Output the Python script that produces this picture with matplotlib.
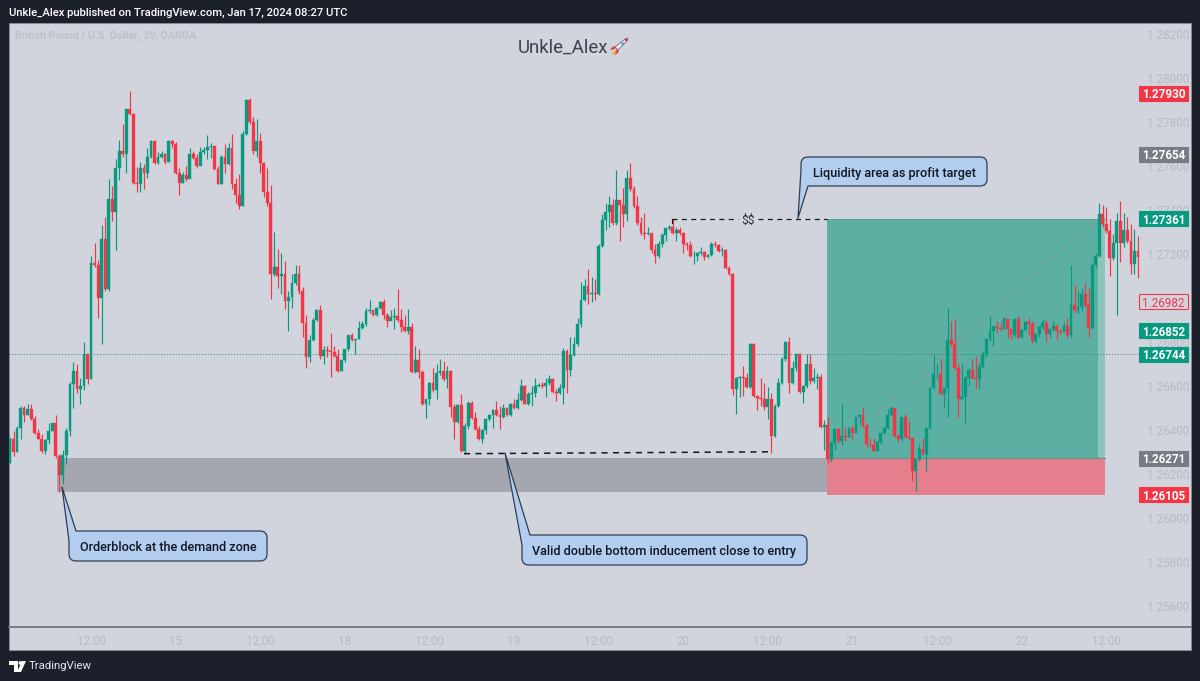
import matplotlib
matplotlib.use("Agg")
import matplotlib.pyplot as plt
import numpy as np
from matplotlib.patches import Circle, PathPatch, Polygon, Rectangle
from matplotlib.path import Path

W, H = 1200, 681
DARK = "#1c202b"
PANEL = "#d1d4dc"
GREEN = "#089981"
RED = "#f23645"
GRAY = "#787b86"
TICK = "#b7bac4"
FONT = ["Roboto", "DejaVu Sans"]

plt.rcParams["font.family"] = FONT

# GBPUSD 30m candles, in pips above 1.2600
BASE = 1.26
first_open = 25
closes = [
    36, 30, 41, 50, 47, 49.5, 45, 38.5, 36, 30.5, 35.5, 39.5, 43, 28, 19.5, 28.5, 39.5, 61, 67, 58.5,
    60, 74.5, 63, 116, 115, 100, 127, 104, 145, 139, 159, 167, 165.5, 186, 183.5, 152.5, 152, 159, 157, 164,
    171.5, 161.5, 164, 165.5, 162, 171.5, 170, 157, 152.5, 156, 154, 165.5, 163.5, 160, 166.5, 167.5, 168.5, 169, 158.5, 152,
    164, 161, 168, 152, 147, 142, 174.5, 190, 180, 167, 171.5, 161.5, 148, 143, 111, 114, 110, 111, 98.5, 100.5,
    107, 111, 103, 88.5, 73, 81, 90, 94.5, 73.5, 76.5, 76, 75.5, 73.5, 67, 72, 77, 83, 81, 81.5, 86.5,
    88, 94, 94.5, 92.5, 95.5, 98, 92.5, 89.5, 91.5, 92, 90, 87, 85, 87, 66.5, 72, 66.5, 52, 54, 61.5,
    58, 66, 67, 63, 67, 50.5, 43.5, 51.5, 30.5, 42, 52.5, 45.5, 40.5, 36, 40, 45, 47, 49, 47, 46,
    50, 47, 52, 50, 53.5, 60, 52, 56.5, 57, 60, 60.5, 60, 61.5, 63, 57.5, 57, 59, 76, 67.5, 74,
    79, 88, 99, 105.5, 102, 102.5, 102, 123.5, 135.5, 139, 142.5, 134, 144.5, 142.5, 138, 154.5, 149.5, 142, 134, 129.5,
    129, 129.5, 122, 119, 124.5, 128.5, 132, 132.5, 129.5, 131, 129.5, 124.5, 124, 119, 119, 120.5, 121, 118.5, 119.5, 124.5,
    124, 121.5, 122, 113.5, 111, 58.5, 63.5, 64, 63.5, 59.5, 79, 55.5, 54.5, 54, 50.5, 54, 37.5, 51, 61.5, 72.5,
    80, 61.5, 68, 74.5, 57.5, 60, 70, 62.5, 63.5, 64, 41.5, 42.5, 27, 34, 40.5, 35, 37.5, 37, 41, 38.5,
    46, 47, 42, 33.5, 33, 30.5, 34.5, 38.5, 41, 47, 50, 37.5, 36, 46, 37, 36.5, 21.5, 27, 31.5, 29,
    41, 59, 65.5, 65.5, 56.5, 59, 81, 79, 68, 54, 55, 63.5, 67.5, 63.5, 63, 68.5, 74.5, 81.5, 85, 87.5,
    86.5, 86, 90.5, 86, 83, 90.5, 82.5, 85.5, 89, 88, 80.5, 83.5, 87, 88.5, 83.5, 86, 87.5, 85, 84.5, 87.5,
    83, 97, 94.5, 96, 102, 97, 86.5, 115, 119, 138, 133.5, 130.5, 118, 125, 135, 125, 131, 126, 115.5, 121.5,
    118.5,
]
highs = [
    37, 39.5, 42, 51, 51, 52, 52, 46.5, 40.5, 38, 36, 43, 43, 47, 29, 31, 41, 62, 71, 70,
    63.5, 80, 74.5, 119, 125, 117.5, 133, 137, 154, 151, 163, 172, 179, 186, 194, 184, 159.5, 162, 161, 168,
    172, 172, 166.5, 167, 166, 172, 172, 171, 159, 157.5, 160, 168, 167, 165.5, 168.5, 168.5, 174, 170.5, 168.5, 160,
    165, 170, 170.5, 174.5, 154.5, 156.5, 176, 190.5, 191, 182.5, 181.5, 175, 162, 159, 151.5, 130, 122.5, 120.5, 117, 103,
    111, 115, 115, 105, 92.5, 83, 91, 95, 97, 78, 78, 84, 78, 77, 72, 77, 83, 84, 81.5, 89.5,
    89.5, 95.5, 99, 92.5, 96, 98.5, 99.5, 93, 94.5, 95.5, 104, 95, 92.5, 95, 88.5, 78, 77, 67.5, 54, 62,
    68, 70, 72.5, 71.5, 69, 67.5, 52, 52, 56.5, 43, 53, 53, 48, 42, 40.5, 45.5, 47.5, 49.5, 53, 51,
    52, 50.5, 52.5, 54, 57, 63, 60.5, 57.5, 60, 63.5, 61.5, 62, 63.5, 65, 63.5, 58.5, 61, 77.5, 77, 82.5,
    82.5, 91, 107.5, 108.5, 113, 109.5, 108.5, 124.5, 138, 143, 146.5, 145, 158, 144.5, 150, 158, 161.5, 151, 146.5, 137,
    138.5, 132.5, 129.5, 124.5, 126, 129.5, 132, 133, 136, 132.5, 132.5, 130, 125.5, 126, 121.5, 121, 123, 121.5, 120, 125.5,
    126, 124.5, 123, 122.5, 114.5, 111.5, 64, 64.5, 69, 66, 79.5, 79.5, 56, 63.5, 61.5, 59.5, 57, 52, 63.5, 73,
    80.5, 82.5, 71.5, 75, 75, 60.5, 74.5, 74.5, 68, 66, 65.5, 44.5, 46, 35, 41, 41, 52, 41.5, 41.5, 42,
    46, 47, 50.5, 43, 36.5, 36.5, 35, 39, 41.5, 49.5, 51, 50, 38, 46, 47.5, 44, 36.5, 27, 33.5, 36.5,
    41.5, 59.5, 74, 70, 72.5, 59.5, 95.5, 89.5, 90.5, 70, 70, 64.5, 68, 72.5, 73.5, 70.5, 76, 81.5, 92, 87.5,
    89.5, 89, 91.5, 91, 86.5, 91, 92, 86, 89.5, 91, 89.5, 84, 87.5, 90.5, 90, 86, 89.5, 88, 86, 89,
    91, 115, 106, 103, 104.5, 107, 104.5, 116, 120.5, 143, 142.5, 141.5, 136, 129, 138.5, 144, 138.5, 137, 133.5, 131.5,
    128,
]
lows = [
    25, 28, 30, 36, 43.5, 47, 44.5, 38, 36, 29.5, 29, 33.5, 39.5, 27.5, 12, 15.5, 24.5, 37.5, 50, 57,
    52, 58, 61, 63, 114, 91, 79, 103, 103, 135, 122, 153.5, 164, 157, 183, 152, 148, 148, 149.5, 154.5,
    163.5, 161, 161, 163.5, 161, 162, 168, 156.5, 147, 152.5, 153, 154.5, 163, 159, 160.5, 165.5, 163, 163.5, 158, 152,
    152, 157, 160.5, 149.5, 143, 140.5, 142, 174, 179, 165.5, 164, 157, 146, 142, 99.5, 110, 104.5, 102, 95, 85,
    95.5, 106, 102, 82.5, 68, 71, 80.5, 89.5, 72.5, 70, 73, 64, 73, 66.5, 67, 71, 76, 80.5, 74.5, 81.5,
    86, 87.5, 93, 92, 92, 95, 90.5, 87, 90, 86, 89, 84.5, 84.5, 83.5, 66, 66, 63.5, 51.5, 45.5, 51.5,
    57.5, 54, 65, 62.5, 59, 46, 36, 43, 30, 29.5, 40.5, 45, 40, 35.5, 34, 38, 44, 41, 46.5, 40.5,
    45.5, 46.5, 46.5, 49.5, 49.5, 53, 52, 51.5, 51, 55, 59.5, 59, 55, 60.5, 57, 53, 56.5, 52, 57, 64.5,
    73.5, 78, 87, 98.5, 97.5, 98, 99, 101.5, 123, 131, 132.5, 133, 133, 126, 132.5, 135, 148.5, 141, 133, 128.5,
    127, 128.5, 120.5, 116, 118, 123, 126, 131, 129, 126, 128.5, 120.5, 122, 118.5, 115.5, 117, 119.5, 117.5, 118, 119,
    123, 121, 119, 113, 110.5, 56, 47.5, 55, 55.5, 59, 59, 55, 49, 51, 49, 45, 29.5, 37, 50.5, 61,
    71.5, 57, 61, 67, 57, 52.5, 59, 61, 61.5, 58.5, 41, 31, 25, 25.5, 31, 34, 33, 35, 37, 36,
    38.5, 42.5, 41.5, 32.5, 32.5, 30, 30.5, 33.5, 38, 40.5, 46.5, 37, 34.5, 35, 36.5, 36, 17, 12.5, 26, 28.5,
    21.5, 40.5, 58.5, 63, 56, 50, 46, 78, 67.5, 45.5, 54, 43, 60, 63, 59, 58.5, 68, 73, 80.5, 78,
    84, 85, 86, 82, 81.5, 82.5, 81.5, 82, 85.5, 83, 79.5, 79.5, 82.5, 86, 80, 82, 85, 81, 83.5, 85,
    82, 82.5, 93, 93, 94, 96, 82.5, 86, 114, 118.5, 132.5, 129.5, 110, 117.5, 92.5, 116.5, 123, 125, 111, 111,
    109,
]

# axis labels and price tags
time_tick_bars = [23, 47, 71, 95, 119, 143, 167, 191, 215, 239, 263, 287, 311]
time_tick_labels = ["12:00", "15", "12:00", "18", "12:00", "19", "12:00", "20", "12:00", "21", "12:00", "22", "12:00"]
price_ticks = [1.256, 1.258, 1.260, 1.262, 1.264, 1.266, 1.268, 1.272, 1.274, 1.276, 1.278, 1.280, 1.282]
tag_prices = [1.27930, 1.27654, 1.27361, 1.26982, 1.26852, 1.26744, 1.26271, 1.26105]
tag_colors = [RED, GRAY, GREEN, "outline", GREEN, GREEN, GRAY, RED]

# zones, in bars and prices
entry_price = 1.26271
target_price = 1.27361
stop_price = 1.26105
demand_top = 1.26271
demand_bottom = 1.26120
demand_start = 13.3
trade_start = 231.8
trade_fill_end = 308.7
trade_end = 310.6
last_price = 1.26744

opens = [first_open] + closes[:-1]
o = BASE + np.array(opens) / 10000
c = BASE + np.array(closes) / 10000
hi = BASE + np.array(highs) / 10000
lo = BASE + np.array(lows) / 10000
idx = np.arange(len(c))
cols = [GREEN if b >= a else RED for a, b in zip(o, c)]

fig = plt.figure(figsize=(W / 100, H / 100), dpi=100, facecolor=DARK)

# overlay in pixel coords for chrome and drawings
panel = fig.add_axes([0, 0, 1, 1], zorder=0)
panel.set_xlim(0, W)
panel.set_ylim(H, 0)
panel.axis("off")
panel.add_patch(Rectangle((9, 23), 1182, 627, fc=PANEL, ec="#8a8e99", lw=0.6))

ax = fig.add_axes([9 / W, (H - 626.5) / H, 1182 / W, 603.5 / H], zorder=1)
ax.patch.set_alpha(0)
ax.set_xlim(-0.28, 335.04)
ax.set_ylim(1.25507, 1.2825)
for side in ["top", "left", "right"]:
    ax.spines[side].set_visible(False)
ax.spines["bottom"].set_color("#6f7380")
ax.spines["bottom"].set_linewidth(1.3)

ax.set_xticks(time_tick_bars)
ax.set_xticklabels(time_tick_labels)
ax.tick_params(axis="x", length=0, pad=6, labelsize=8.4, labelcolor=TICK)
ax.yaxis.tick_right()
ax.set_yticks(price_ticks)
ax.set_yticklabels([f"{p:.5f}" for p in price_ticks])
ax.tick_params(axis="y", length=0, pad=-31.7, labelsize=8.4, labelcolor=TICK)

# position zones
ax.add_patch(Rectangle((demand_start, demand_bottom), trade_start - demand_start, demand_top - demand_bottom,
                       fc="#a4a7b0", ec="none", zorder=1))
ax.add_patch(Rectangle((trade_start, entry_price), trade_end - trade_start, target_price - entry_price,
                       fc="#8dc4bb", ec="none", zorder=1))
ax.add_patch(Rectangle((trade_start, entry_price), trade_fill_end - trade_start, target_price - entry_price,
                       fc="#5cb0a3", ec="none", zorder=1.1))
ax.add_patch(Rectangle((trade_start, stop_price), trade_end - trade_start, entry_price - stop_price,
                       fc="#e57f8d", ec="none", zorder=1))
ax.plot([trade_start, trade_fill_end], [entry_price, target_price], color="#7d9f99", lw=1, ls=(0, (5, 4)), zorder=1.2)
ax.plot([trade_start, trade_end], [entry_price, entry_price], color="#6f8f8a", lw=0.9, zorder=1.2)
ax.plot([trade_start, trade_end], [target_price, target_price], color="#4f9f93", lw=0.6, zorder=1.2)
ax.axhline(last_price, xmax=(1139 - 9) / 1182, color="#2f7f73", lw=0.7, ls=(0, (1, 2)), zorder=1.3)

# candles
ax.vlines(idx, lo, hi, colors=cols, lw=0.85, zorder=2)
ax.bar(idx, np.abs(c - o), bottom=np.minimum(o, c), width=0.8, color=cols, edgecolor=cols, lw=0.25, zorder=2.1)

# price tags on the right
trans = ax.get_yaxis_transform()
tag_x = (1139 - 9) / 1182
tag_w = 49 / 1182
tag_h = 15 / 22000
for p, col in zip(tag_prices, tag_colors):
    face = PANEL if col == "outline" else col
    edge = RED if col == "outline" else col
    txt = RED if col == "outline" else "white"
    ax.add_patch(Rectangle((tag_x, p - tag_h / 2), tag_w, tag_h, transform=trans, fc=face, ec=edge, lw=0.8,
                           clip_on=False, zorder=4))
    ax.text(tag_x + tag_w / 2, p, f"{p:.5f}", transform=trans, color=txt, fontsize=8.4,
            fontweight="normal" if col == "outline" else "bold", ha="center", va="center_baseline",
            clip_on=False, zorder=5)

# drawings go on top of the candles
top = fig.add_axes([0, 0, 1, 1], zorder=2)
top.set_xlim(0, W)
top.set_ylim(H, 0)
top.axis("off")
top.patch.set_alpha(0)

dash = (0, (4, 3.5))
top.plot([672, 738], [218.5, 218.5], color="#15181f", lw=0.9, ls=dash)
top.plot([758, 827], [218.5, 218.5], color="#15181f", lw=0.9, ls=dash)
top.plot([672, 672], [218.5, 223], color="#15181f", lw=0.8)
top.text(748.5, 218.5, "$$", color="#2a2e39", fontsize=8.6, ha="center", va="center_baseline", parse_math=False)
top.plot([464, 771], [453.7, 451.8], color="#15181f", lw=1.1, ls=dash)


def callout(x0, y0, x1, y1, tip, base_a, base_b, text, below=False):
    # rounded box with a pointer at one corner
    r = 7
    tl = ((x0, y0 + r), (x0, y0), (x0 + r, y0))
    tr = ((x1 - r, y0), (x1, y0), (x1, y0 + r))
    br = ((x1, y1 - r), (x1, y1), (x1 - r, y1))
    bl = ((x0 + r, y1), (x0, y1), (x0, y1 - r))
    if below:
        # pointer hangs from the bottom left, walk up the left side
        order = [tl, tr, br]
    else:
        # pointer rises from the top left, walk down the left side
        order = [tuple(reversed(k)) for k in (bl, br, tr)]
    verts = [base_a, tip, base_b]
    codes = [Path.MOVETO, Path.LINETO, Path.LINETO]
    for a, b, d in order:
        verts += [a, b, d]
        codes += [Path.LINETO, Path.CURVE3, Path.CURVE3]
    verts.append(base_a)
    codes.append(Path.CLOSEPOLY)
    top.add_patch(PathPatch(Path(verts, codes), fc="#b2cdee", ec="#2f3d52", lw=0.9, joinstyle="round"))
    top.text((x0 + x1) / 2, (y0 + y1) / 2, text, color="#101622", fontsize=9.1, fontweight="medium",
             ha="center", va="center_baseline")


callout(69, 531, 267, 561, (62, 487), (76, 531), (69, 541), "Orderblock at the demand zone")
callout(522, 535, 807, 565, (505, 453), (530, 535), (522, 545), "Valid double bottom inducement close to entry")
callout(801, 157, 987, 186, (798, 218), (808, 186), (801, 170), "Liquidity area as profit target", below=True)

# header, watermark, footer
top.text(9, 13, "Unkle_Alex published on TradingView.com, Jan 17, 2024 08:27 UTC", color="white", fontsize=8.1,
         fontweight="medium", ha="left", va="center")
top.text(15, 36, "British Pound / U.S. Dollar, 30, OANDA", color="#bcc0ca", fontsize=7.6, fontweight="bold",
         ha="left", va="center")
top.text(563, 48, "Unkle_Alex", color="#3a4150", fontsize=13.4, ha="center", va="center")

# rocket next to the name
top.add_patch(Polygon([(628, 38), (625, 39), (615, 47), (618, 50), (627, 41)], fc="#e6e8ee", ec="#59606e", lw=0.5))
top.add_patch(Polygon([(628, 38), (624, 39.5), (626.5, 42)], fc="#e0394a", ec="none"))
top.add_patch(Polygon([(616, 46), (612, 47), (610, 50), (615, 49)], fc="#e0394a", ec="none"))
top.add_patch(Polygon([(619, 49), (618, 53), (615, 55), (616, 50)], fc="#e0394a", ec="none"))
top.add_patch(Polygon([(615, 50), (617, 52), (611, 56)], fc="#f5a623", ec="none"))
top.add_patch(Circle((622.5, 43.5), 1.3, fc="#4a90d9", ec="none"))

# TradingView logo
top.add_patch(Polygon([(9, 661), (18, 661), (18, 672), (14, 672), (14, 665), (9, 665)], fc="white", ec="none"))
top.add_patch(Circle((20.5, 663), 1.9, fc="white", ec="none"))
top.add_patch(Polygon([(22, 661), (26, 661), (21, 672), (17, 672)], fc="white", ec="none"))
top.text(29, 666, "TradingView", color="#e6e8ee", fontsize=8.2, ha="left", va="center")

fig.savefig("out.png", dpi=100, facecolor=DARK)
